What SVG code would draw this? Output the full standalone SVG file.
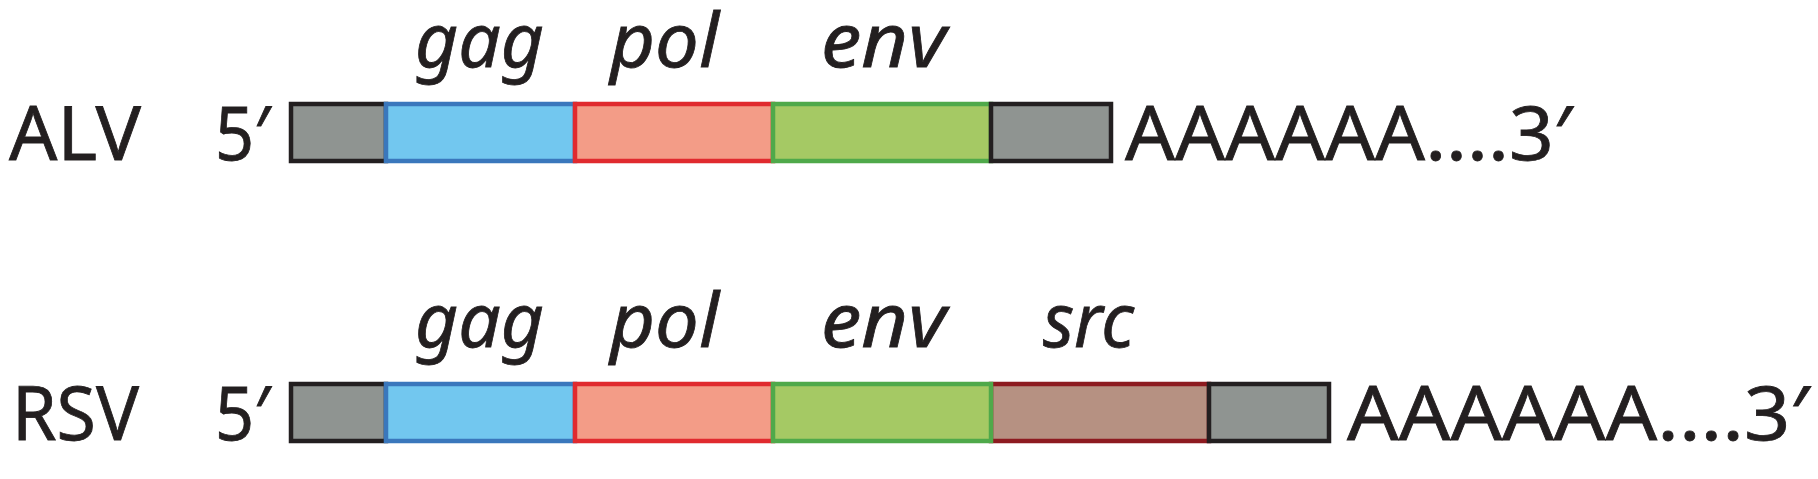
<svg xmlns="http://www.w3.org/2000/svg" width="1818" height="479" viewBox="0 0 1818 479">
<style>
.t{font-family:"Noto Sans","Open Sans","Liberation Sans",sans-serif;fill:#231f20;stroke:#231f20;stroke-width:0.8}
.big{font-size:74px}
.gene{font-size:75px;font-style:italic}
.seg{stroke-width:4.5}
.ltr{fill:#8f9491;stroke:#231f20}
.gag{fill:#72c7ef;stroke:#3a77bc}
.pol{fill:#f39c87;stroke:#e02a2f}
.env{fill:#a5c964;stroke:#4fa94a}
.src{fill:#b69182;stroke:#8d1b20}
</style>
<rect width="1818" height="479" fill="#ffffff"/>
<g id="alv">
  <g id="alv-name"><text class="t big" x="9" y="160" textLength="132" lengthAdjust="spacingAndGlyphs">ALV</text></g>
  <g id="alv-5"><text class="t big" x="215" y="160" textLength="55" lengthAdjust="spacingAndGlyphs">5′</text></g>
  <g id="alv-ltr5"><rect class="seg ltr" x="291" y="104" width="95" height="57"/></g>
  <g id="alv-gag"><rect class="seg gag" x="386" y="104" width="189" height="57"/><text class="t gene" x="415" y="67" textLength="129" lengthAdjust="spacingAndGlyphs">gag</text></g>
  <g id="alv-pol"><rect class="seg pol" x="575" y="104" width="198" height="57"/><text class="t gene" x="610" y="67" textLength="109" lengthAdjust="spacingAndGlyphs">pol</text></g>
  <g id="alv-env"><rect class="seg env" x="773" y="104" width="218" height="57"/><text class="t gene" x="821" y="67" textLength="125" lengthAdjust="spacingAndGlyphs">env</text></g>
  <g id="alv-ltr3"><rect class="seg ltr" x="991" y="104" width="120" height="57"/></g>
  <g id="alv-3"><text class="t big" x="1125" y="160" textLength="447" lengthAdjust="spacingAndGlyphs">AAAAAA....3′</text></g>
</g>
<g id="rsv">
  <g id="rsv-name"><text class="t big" x="12" y="440" textLength="127" lengthAdjust="spacingAndGlyphs">RSV</text></g>
  <g id="rsv-5"><text class="t big" x="215" y="440" textLength="55" lengthAdjust="spacingAndGlyphs">5′</text></g>
  <g id="rsv-ltr5"><rect class="seg ltr" x="291" y="384" width="95" height="57"/></g>
  <g id="rsv-gag"><rect class="seg gag" x="386" y="384" width="189" height="57"/><text class="t gene" x="415" y="347" textLength="129" lengthAdjust="spacingAndGlyphs">gag</text></g>
  <g id="rsv-pol"><rect class="seg pol" x="575" y="384" width="198" height="57"/><text class="t gene" x="610" y="347" textLength="109" lengthAdjust="spacingAndGlyphs">pol</text></g>
  <g id="rsv-src"><rect class="seg src" x="991" y="384" width="218" height="57"/><text class="t gene" x="1043" y="347" textLength="91" lengthAdjust="spacingAndGlyphs">src</text></g>
  <g id="rsv-env"><rect class="seg env" x="773" y="384" width="218" height="57"/><text class="t gene" x="821" y="347" textLength="125" lengthAdjust="spacingAndGlyphs">env</text></g>
  <g id="rsv-ltr3"><rect class="seg ltr" x="1209" y="384" width="120" height="57"/></g>
  <g id="rsv-3"><text class="t big" x="1347" y="440" textLength="462" lengthAdjust="spacingAndGlyphs">AAAAAA....3′</text></g>
</g>
<g id="connectors"></g>
</svg>
